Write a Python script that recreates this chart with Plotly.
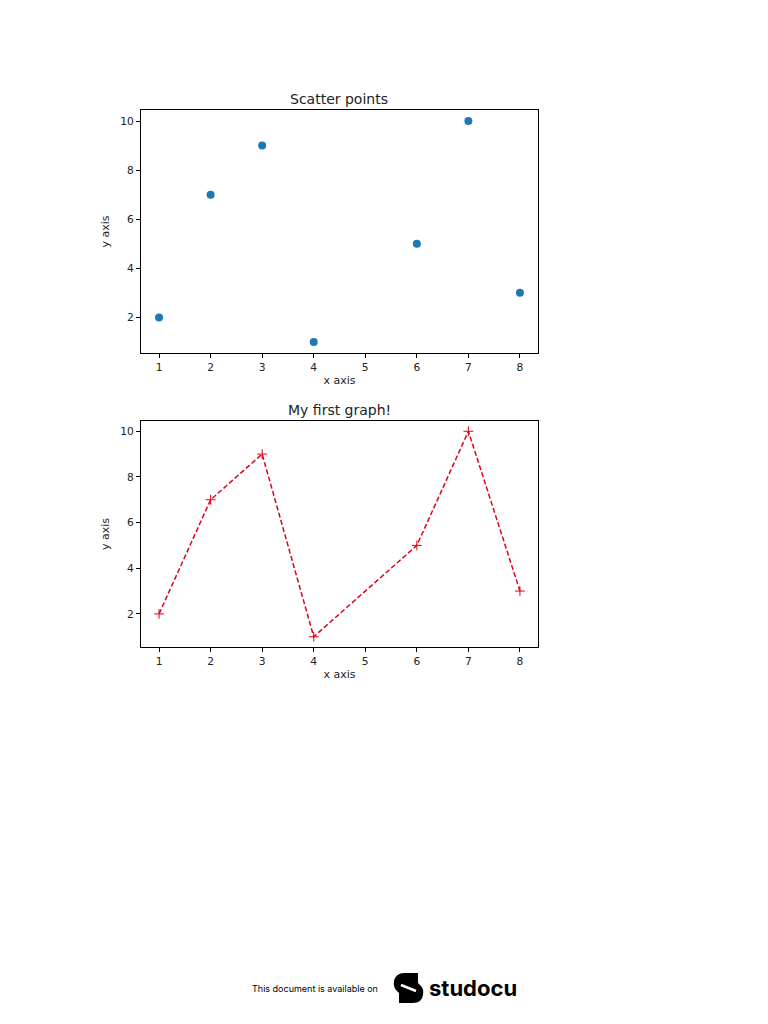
import plotly.graph_objects as go

# data
x_vals = [1, 2, 3, 4, 6, 7, 8]
y_vals = [2, 7, 9, 1, 5, 10, 3]
x_ticks = [1, 2, 3, 4, 5, 6, 7, 8]
y_ticks = [2, 4, 6, 8, 10]

# page has an 8px body margin, so the figure is a bit smaller and shifted
OFF = 8
W, H = 760, 1008
font = "DejaVu Sans"


def px(x):
    return (x - OFF) / W


def py(y):
    return 1 - (y - OFF) / H


fig = go.Figure()

fig.add_trace(go.Scatter(x=x_vals, y=y_vals, mode="markers",
                         marker=dict(color="#1f77b4", size=8),
                         xaxis="x", yaxis="y", showlegend=False))

fig.add_trace(go.Scatter(x=x_vals, y=y_vals, mode="lines+markers",
                         line=dict(color="#e0001a", dash="5px,2.5px", width=1.5),
                         marker=dict(symbol="cross-thin", size=7,
                                     line=dict(color="#e0001a", width=1)),
                         xaxis="x2", yaxis="y2", showlegend=False))

x_dom = [px(141), px(538)]
top_dom = [py(353), py(110)]
bot_dom = [py(647), py(421)]

axis_common = dict(showline=True, mirror=True, linecolor="black", linewidth=1,
                   ticks="outside", ticklen=4, tickcolor="black",
                   showgrid=False, zeroline=False,
                   tickfont=dict(family=font, size=10.7, color="#222"))

fig.update_layout(
    width=W, height=H,
    paper_bgcolor="white", plot_bgcolor="white",
    margin=dict(l=0, r=0, t=0, b=0),
    font=dict(family=font, color="#222"),
    xaxis=dict(domain=x_dom, anchor="y", range=[0.65, 8.35], tickvals=x_ticks,
               title=dict(text="x axis", font=dict(size=11), standoff=3), **axis_common),
    yaxis=dict(domain=top_dom, anchor="x", range=[0.55, 10.45], tickvals=y_ticks,
               title=dict(text="y axis", font=dict(size=11), standoff=8), **axis_common),
    xaxis2=dict(domain=x_dom, anchor="y2", range=[0.65, 8.35], tickvals=x_ticks,
                title=dict(text="x axis", font=dict(size=11), standoff=3), **axis_common),
    yaxis2=dict(domain=bot_dom, anchor="x2", range=[0.55, 10.45], tickvals=y_ticks,
                title=dict(text="y axis", font=dict(size=11), standoff=8), **axis_common),
)

mid = (x_dom[0] + x_dom[1]) / 2
fig.add_annotation(text="Scatter points", x=mid, y=py(99), xref="paper", yref="paper",
                   xanchor="center", yanchor="middle", showarrow=False,
                   font=dict(family=font, size=14, color="#222"))
fig.add_annotation(text="My first graph!", x=mid, y=py(410), xref="paper", yref="paper",
                   xanchor="center", yanchor="middle", showarrow=False,
                   font=dict(family=font, size=14, color="#222"))

# studocu footer
fig.add_annotation(text="This document is available on", x=px(315), y=py(988),
                   xref="paper", yref="paper", xanchor="center", yanchor="middle",
                   showarrow=False, font=dict(family="Inter", size=9, color="black"))
fig.add_annotation(text="<b>studocu</b>", x=px(473), y=py(988),
                   xref="paper", yref="paper", xanchor="center", yanchor="middle",
                   showarrow=False, font=dict(family="Inter", size=22, color="black"))


def pt(x, y):
    return "{:.5f},{:.5f}".format(px(x), py(y))


logo = ("M " + pt(404, 973) + " L " + pt(418, 973) + " L " + pt(418, 983)
        + " L " + pt(421, 986) + " Q " + pt(424, 989) + " " + pt(423, 995)
        + " Q " + pt(422, 1003) + " " + pt(413, 1003) + " L " + pt(399, 1003)
        + " L " + pt(399, 993) + " L " + pt(396, 990) + " Q " + pt(393, 986) + " " + pt(394, 981)
        + " Q " + pt(396, 973) + " " + pt(404, 973) + " Z")
fig.add_shape(type="path", xref="paper", yref="paper", path=logo,
              fillcolor="black", line=dict(width=0))
fig.add_shape(type="line", xref="paper", yref="paper",
              x0=px(401), y0=py(985), x1=px(416), y1=py(991),
              line=dict(color="white", width=2.5))

fig.write_html("out.html")
